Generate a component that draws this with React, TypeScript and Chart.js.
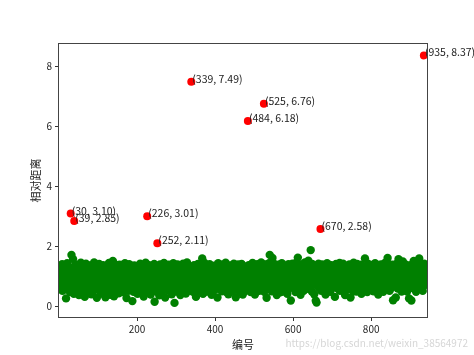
import React, { useEffect, useRef } from "react";
import { Chart, registerables } from "chart.js";

Chart.register(...registerables);

// Outliers (index, relative distance)
const outlierIdx = [30, 39, 226, 252, 339, 484, 525, 670, 935];
const outlierVal = [3.1, 2.85, 3.01, 2.11, 7.49, 6.18, 6.76, 2.58, 8.37];

// Normal points: relative distance by index 0..942 (estimated)
const greenVals = [
  1.03,0.72,1.31,0.88,1.22,0.61,1.12,0.79,1.41,0.52,0.93,1.18,0.68,1.04,1.27,0.57,0.83,1.09,0.27,1.21,
  0.91,1.44,0.63,0.98,0.77,1.33,0.71,1.14,0.48,1.19,0.9,1.02,1.72,0.84,1.29,0.62,1.58,1.07,0.42,0.9,
  1.16,0.73,0.97,1.39,0.54,0.81,1.26,0.59,1.13,0.92,1.24,0.38,1.01,1.34,0.69,0.88,1.46,0.64,1.08,0.79,
  0.51,1.23,0.94,1.28,0.66,1.03,0.32,1.11,0.76,1.43,0.6,1.17,0.86,0.47,1.36,0.99,0.74,1.12,0.82,1.37,
  0.58,0.95,1.21,0.41,1.06,1.32,0.67,1.15,0.53,0.85,1.47,0.97,0.62,1.19,0.89,1.3,0.73,0.29,1.1,0.78,
  1.25,0.64,1.0,1.42,0.83,0.49,1.35,0.91,1.07,0.7,1.2,0.43,1.04,1.38,0.59,0.94,1.27,0.81,1.13,0.31,
  0.68,1.22,0.96,0.52,1.31,0.87,0.63,1.09,1.45,0.76,1.01,0.39,1.18,0.71,1.29,0.93,0.57,1.14,1.52,0.8,
  0.98,0.34,1.24,0.69,1.4,0.9,0.5,1.06,0.82,1.33,0.61,1.03,1.2,0.44,0.86,1.39,0.73,1.11,0.77,1.28,
  0.6,1.05,1.23,0.78,0.48,1.34,0.92,1.1,0.67,1.44,0.99,0.58,1.17,0.28,0.88,1.32,0.81,1.13,0.52,0.97,
  1.41,0.7,1.19,0.89,0.63,1.08,1.3,0.79,0.18,1.02,1.24,0.49,0.92,1.37,0.74,1.12,0.56,1.28,1.0,0.84,
  1.21,0.42,1.03,1.35,0.68,0.91,1.09,0.61,1.43,0.78,1.01,0.5,1.16,0.87,1.31,0.72,1.14,0.33,0.83,1.22,
  0.99,0.59,1.46,0.9,0.71,1.27,1.1,0.53,1.2,0.76,1.04,1.38,0.62,0.93,1.18,0.4,1.07,0.69,1.33,0.98,
  0.82,1.23,0.6,1.01,1.42,0.16,0.88,1.29,0.72,1.12,0.51,1.19,1.0,0.8,1.34,0.58,1.09,0.37,0.97,1.4,
  0.7,0.93,1.2,0.47,1.13,1.3,0.79,1.02,0.63,1.45,0.87,1.25,0.3,1.04,0.74,1.36,1.08,0.82,1.17,0.54,
  1.0,1.39,0.69,0.94,1.22,0.6,1.11,1.32,0.78,0.41,1.03,1.19,0.71,1.44,0.89,1.07,0.12,0.57,1.28,0.83,
  1.09,0.5,1.21,0.92,1.4,0.68,1.01,1.31,0.62,0.81,1.18,0.38,1.1,0.86,1.35,0.73,0.98,0.48,1.43,0.79,
  1.2,0.63,1.04,1.29,0.91,0.43,1.12,0.7,1.47,0.82,1.22,0.97,0.52,1.33,0.88,0.59,1.08,1.24,0.77,1.0,
  0.72,1.3,1.02,0.49,1.19,0.9,1.38,0.61,1.13,0.8,1.27,0.32,1.01,1.23,0.68,0.94,1.42,0.57,1.06,0.84,
  1.18,0.53,0.99,1.34,0.78,1.11,0.71,1.6,0.89,0.42,1.21,1.03,0.6,1.45,0.81,1.08,1.28,0.67,0.93,1.2,
  0.5,1.02,1.32,0.73,1.12,0.87,1.41,0.62,1.24,0.79,0.98,0.39,1.3,0.91,1.07,0.69,1.19,0.54,1.01,1.36,
  0.83,1.1,0.58,1.33,0.92,1.17,0.3,1.04,1.44,0.7,1.13,0.8,1.27,0.63,0.97,1.22,0.88,0.51,1.39,0.74,
  1.08,0.9,1.31,0.61,1.0,1.23,0.82,1.46,0.49,1.12,0.94,1.29,0.68,1.03,0.41,1.18,0.77,1.1,1.37,0.59,
  0.92,1.28,1.01,0.72,1.2,0.52,1.09,0.8,1.43,0.64,0.99,1.34,0.87,0.31,1.24,0.7,1.14,1.02,0.78,1.4,
  0.6,1.19,0.91,1.08,0.47,1.3,0.83,1.0,1.42,0.73,1.21,0.4,1.11,0.88,1.33,0.62,1.04,1.25,0.79,0.53,
  1.3,0.98,0.69,1.12,1.2,0.9,1.38,0.59,1.03,0.82,1.19,0.48,1.32,1.07,0.71,0.93,1.45,0.63,0.97,1.22,
  0.8,1.1,0.4,1.28,0.89,1.02,0.72,1.2,1.41,0.6,1.13,0.84,1.33,0.52,1.01,0.9,1.24,0.68,1.47,1.08,
  0.58,0.99,1.31,0.81,1.18,0.9,0.49,1.12,1.4,0.73,1.04,1.23,0.29,0.88,1.35,0.79,1.09,0.62,1.44,1.0,
  1.72,0.7,1.21,0.93,1.13,0.51,1.28,1.62,0.78,1.01,1.19,0.6,1.42,0.87,1.1,0.74,1.3,0.97,0.38,1.2,
  0.82,1.07,1.39,0.61,1.0,1.33,0.9,0.47,1.23,0.72,1.12,1.44,0.8,1.03,0.57,1.29,0.92,1.17,0.5,1.09,
  0.69,1.02,1.34,0.78,1.22,0.42,1.1,0.88,1.41,0.6,0.98,1.2,0.83,1.3,0.2,1.12,0.73,1.0,1.43,0.91,
  1.19,0.62,1.08,0.79,1.31,1.01,0.48,1.45,0.9,1.22,0.7,1.13,1.63,0.82,0.99,1.27,0.59,1.18,0.92,0.39,
  1.11,1.4,0.71,1.02,1.32,0.8,1.24,0.52,0.97,0.89,1.47,0.61,1.07,1.29,0.78,1.03,0.68,1.2,0.91,1.53,
  1.0,0.58,1.3,1.12,0.81,1.88,0.93,1.21,0.5,1.42,1.01,0.72,1.1,1.34,0.41,0.9,1.18,0.79,0.19,1.03,
  0.13,1.28,0.7,1.09,0.98,1.43,0.62,1.2,0.87,0.8,1.0,1.32,0.52,1.12,1.4,0.69,1.02,1.23,0.9,0.58,
  1.33,0.8,1.1,0.4,0.99,1.2,0.71,1.44,0.91,1.08,0.6,1.3,0.82,1.03,1.21,0.49,1.13,0.87,1.38,0.7,
  1.02,1.19,0.62,1.31,0.9,1.12,0.81,0.32,1.22,0.98,1.42,0.69,1.09,0.93,1.29,0.59,1.01,1.24,0.78,1.45,
  0.52,1.1,0.89,1.3,0.72,1.0,1.2,0.8,1.43,0.6,1.13,0.91,1.34,0.38,1.03,1.18,0.71,1.08,0.88,1.28,
  0.79,1.23,0.98,0.58,1.4,0.92,1.12,0.3,1.32,0.7,1.01,1.2,0.82,1.1,0.51,1.46,0.9,1.03,1.3,0.68,
  1.21,0.89,0.5,1.11,1.42,0.8,1.0,1.33,0.62,1.19,0.93,1.09,0.72,1.02,1.39,0.42,1.22,0.81,1.12,1.29,
  0.61,1.0,1.18,0.92,1.6,0.7,1.13,1.31,0.79,1.01,0.48,1.2,1.43,0.88,1.1,0.6,1.3,0.99,0.82,1.21,
  0.9,1.38,0.7,1.11,0.98,1.32,0.51,1.2,0.8,1.03,1.44,0.59,1.09,0.91,1.28,0.72,1.19,1.0,0.4,1.12,
  1.3,0.81,1.02,1.22,0.6,1.4,0.89,1.1,0.7,1.33,0.99,0.49,1.2,0.82,1.12,1.45,0.9,0.58,1.01,1.28,
  0.71,1.21,1.62,0.92,1.1,1.0,1.41,0.52,1.18,0.8,1.3,1.02,0.62,1.09,0.88,1.39,0.21,1.2,0.98,0.72,
  1.32,0.8,1.1,0.3,1.0,1.23,0.91,1.44,0.6,1.12,1.58,0.82,1.29,1.0,0.69,1.2,0.9,1.42,0.5,1.08,
  0.99,1.5,0.81,1.21,0.6,1.32,0.88,1.1,1.4,0.72,1.02,1.19,0.5,1.3,0.92,1.09,0.79,0.27,1.22,1.0,
  1.38,0.7,1.1,0.2,1.29,0.9,1.01,1.2,0.61,1.52,0.82,1.12,1.31,0.88,0.99,0.49,1.42,1.2,0.8,1.1,
  0.7,1.31,1.0,1.6,0.92,1.2,0.6,1.41,1.1,0.79,1.02,1.33,0.52,1.19,0.9,1.0,1.43,0.71,1.12,1.3,
  0.8,1.22,1.0,
];

const xTicks = [200, 400, 600, 800];
const yTicks = [0, 2, 4, 6, 8];
const xTitle = "编号";
const yTitle = "相对距离";
const watermark = "https://blog.csdn.net/weixin_38564972";

const FONT = '"Noto Sans CJK SC", "Noto Sans", sans-serif';

export default function App() {
  const ref = useRef<HTMLCanvasElement>(null);

  useEffect(() => {
    const canvas = ref.current;
    if (!canvas) return;

    const greenPts = greenVals
      .map((v, i) => ({ x: i, y: v }))
      .filter((p) => !outlierIdx.includes(p.x));
    const redPts = outlierIdx.map((ix, k) => ({ x: ix, y: outlierVal[k] }));

    const overlay = {
      id: "overlay",
      afterDatasetsDraw(chart: any) {
        const { ctx, chartArea, scales } = chart;
        const xs = scales.x;
        const ys = scales.y;
        ctx.save();
        // annotations
        ctx.font = `10.5px ${FONT}`;
        ctx.fillStyle = "#222";
        ctx.textAlign = "left";
        ctx.textBaseline = "alphabetic";
        outlierIdx.forEach((ix, k) => {
          const px = xs.getPixelForValue(ix);
          const py = ys.getPixelForValue(outlierVal[k]);
          ctx.fillText(`(${ix}, ${outlierVal[k].toFixed(2)})`, px + 1, py + 1);
        });
        // frame
        ctx.strokeStyle = "#444";
        ctx.lineWidth = 1;
        ctx.strokeRect(
          Math.round(chartArea.left) - 0.5,
          Math.round(chartArea.top) - 0.5,
          Math.round(chartArea.right - chartArea.left) + 1,
          Math.round(chartArea.bottom - chartArea.top) + 1
        );
        // axis titles
        ctx.fillStyle = "#222";
        ctx.font = `11px ${FONT}`;
        ctx.textAlign = "center";
        ctx.textBaseline = "middle";
        ctx.fillText(xTitle, (chartArea.left + chartArea.right) / 2, 345);
        ctx.save();
        ctx.translate(36, (chartArea.top + chartArea.bottom) / 2);
        ctx.rotate(-Math.PI / 2);
        ctx.fillText(yTitle, 0, 0);
        ctx.restore();
        // watermark
        ctx.fillStyle = "#d6d6d6";
        ctx.font = `10px ${FONT}`;
        ctx.textAlign = "right";
        ctx.fillText(watermark, 468, 343);
        ctx.restore();
      },
    };

    const chart = new Chart(canvas, {
      type: "scatter",
      data: {
        datasets: [
          {
            data: redPts,
            backgroundColor: "#ff0000",
            borderWidth: 0,
            pointRadius: 4,
            pointHoverRadius: 4,
            clip: 0,
            order: 0,
          },
          {
            data: greenPts,
            backgroundColor: "#008000",
            borderWidth: 0,
            pointRadius: 4.2,
            pointHoverRadius: 4.2,
            clip: 0,
            order: 1,
          },
        ],
      },
      options: {
        responsive: false,
        animation: false,
        events: [],
        layout: { padding: { top: 44, right: 47, left: 0, bottom: 0 } },
        plugins: { legend: { display: false }, tooltip: { enabled: false } },
        scales: {
          x: {
            type: "linear",
            min: 0,
            max: 943,
            afterBuildTicks: (s: any) => {
              s.ticks = xTicks.map((v) => ({ value: v }));
            },
            afterFit: (s: any) => {
              s.height = 38;
            },
            grid: {
              drawOnChartArea: false,
              drawTicks: true,
              tickLength: 4,
              tickColor: "#333",
            },
            border: { display: false },
            ticks: {
              color: "#262626",
              font: { family: FONT, size: 10 },
              padding: 2,
              maxRotation: 0,
              autoSkip: false,
            },
          },
          y: {
            type: "linear",
            min: -0.35,
            max: 8.75,
            afterBuildTicks: (s: any) => {
              s.ticks = yTicks.map((v) => ({ value: v }));
            },
            afterFit: (s: any) => {
              s.width = 59;
            },
            grid: {
              drawOnChartArea: false,
              drawTicks: true,
              tickLength: 4,
              tickColor: "#333",
            },
            border: { display: false },
            ticks: {
              color: "#262626",
              font: { family: FONT, size: 10 },
              padding: 3,
              autoSkip: false,
            },
          },
        },
      },
      plugins: [overlay],
    });

    return () => chart.destroy();
  }, []);

  return (
    <div style={{ position: "absolute", left: 0, top: 0, width: 474, height: 355, background: "#fff" }}>
      <canvas ref={ref} width={474} height={355} />
    </div>
  );
}
